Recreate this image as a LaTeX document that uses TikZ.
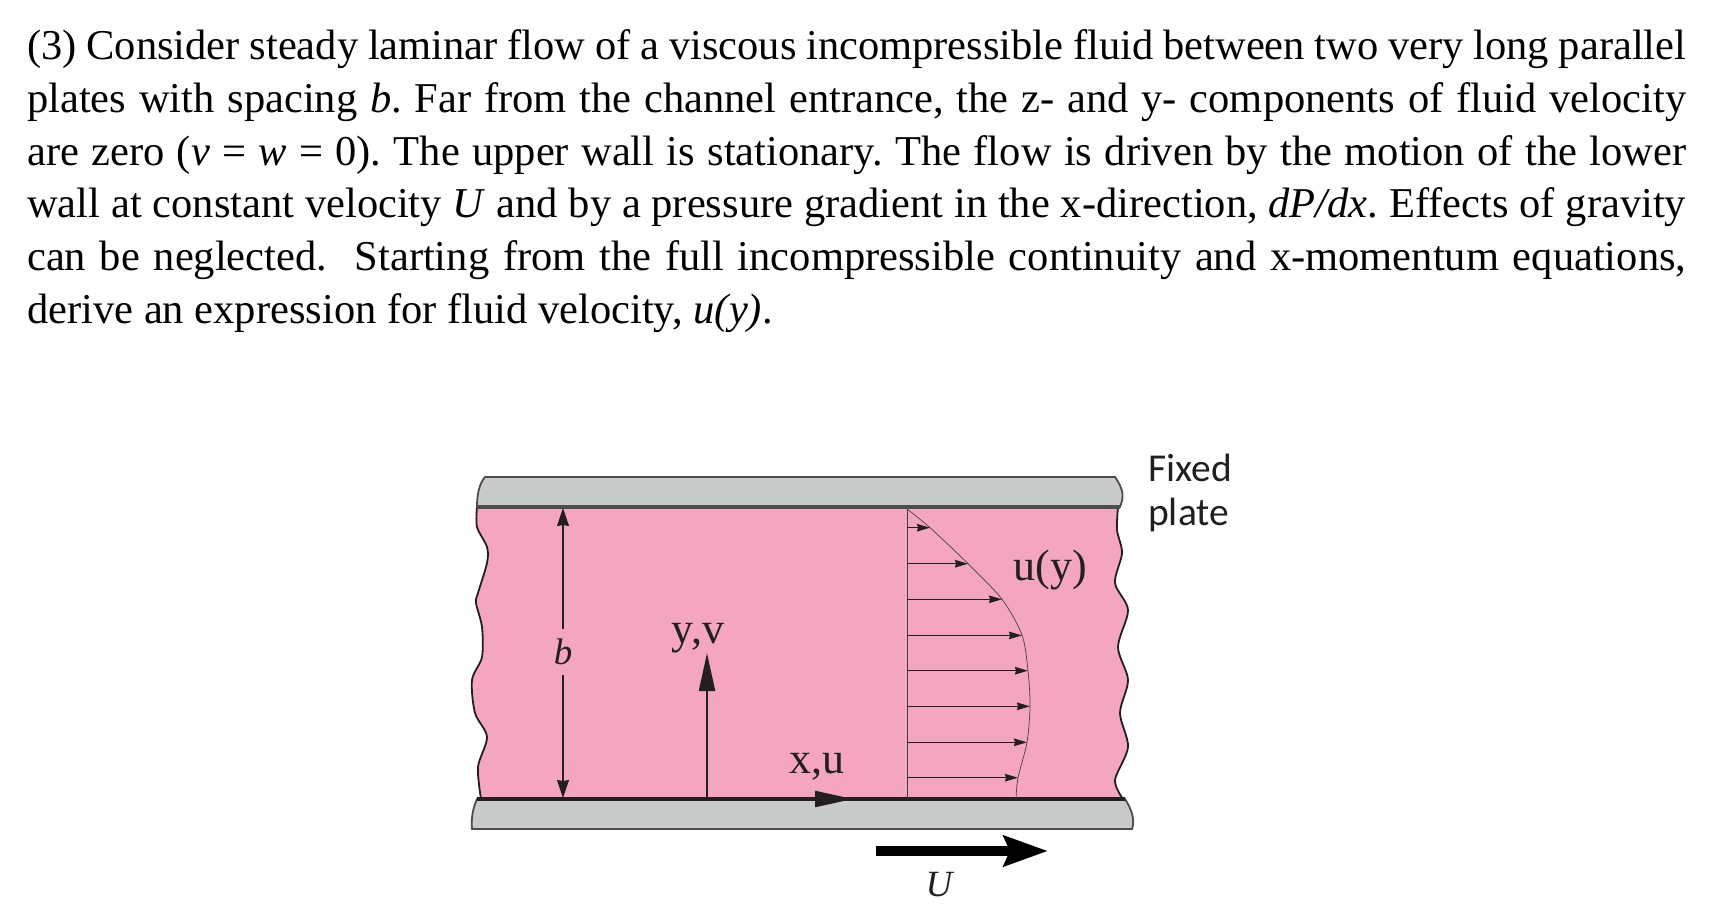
\documentclass[tikz,border=0pt]{standalone}
\usepackage{fontspec}
\setmainfont{Liberation Serif}
\newfontfamily\labelfont{Carlito}
\usetikzlibrary{arrows.meta}
\definecolor{fluidpink}{HTML}{F4A6C0}
\definecolor{plategray}{HTML}{C9CACA}
\definecolor{inkdark}{HTML}{231F20}
\tikzset {
    style text/.style={
        inner sep=0pt,
        anchor=north west,
        text width=1659pt,
        align=justify,
        font=\fontsize{42.5}{52.7}\selectfont\frenchspacing,
    },
    style fluid/.style={
        fill=fluidpink,
        draw=none,
    },
    style wave/.style={
        draw=inkdark,
        line width=1.8pt,
    },
    style plate/.style={
        fill=plategray,
        draw=inkdark!80,
        line width=1.8pt,
    },
    style wall/.style={
        draw=inkdark,
        line width=3.2pt,
    },
    style thin/.style={
        draw=inkdark!85,
        line width=0.7pt,
    },
    style vel/.style={
        draw=inkdark,
        line width=1.5pt,
        -{Stealth[length=13pt,width=7.5pt,inset=1pt]},
    },
    style dim/.style={
        draw=inkdark,
        line width=1.2pt,
        -{Stealth[length=18pt,width=12pt,inset=1pt]},
    },
    style axis/.style={
        draw=inkdark,
        line width=2.2pt,
        -{Stealth[length=38pt,width=16pt,inset=0pt]},
    },
    style motion/.style={
        draw=black,
        line width=10.7pt,
        -{Stealth[length=44pt,width=30pt,inset=6pt]},
    },
    style sym/.style={
        inner sep=0pt,
        text=inkdark,
        font=\fontsize{44}{44}\selectfont,
    },
    style ital/.style={
        inner sep=0pt,
        text=inkdark,
        font=\fontsize{37}{37}\selectfont\itshape,
    },
}
\begin{document}
\begin{tikzpicture}[x=1pt, y=-1pt]
        \useasboundingbox (0,0) rectangle (1712,918);

        \node[style text] (pb) at (27,29.5) {(3) Consider steady laminar flow of a viscous incompressible fluid between two very long parallel\linebreak
        plates with spacing \textit{b}. Far from the channel entrance, the z- and y- components of fluid velocity\linebreak
        are zero (\textit{v} = \textit{w} = 0). The upper wall is stationary. The flow is driven by the motion of the lower\linebreak
        wall at constant velocity \textit{U} and by a pressure gradient in the x-direction, \textit{dP/dx}. Effects of gravity\linebreak
        can be neglected.\ \ Starting from the full incompressible continuity and x-momentum equations,\linebreak
        derive an expression for fluid velocity, \textit{u(y)}.};

        % fluid between the plates
        \fill[style fluid] plot[smooth] coordinates {(477,507) (477,527) (487,547) (487,563) (478,593) (476,603) (482,627) (482,657) (472,680) (475,713) (487,737) (478,767) (481,799)}
            -- plot[smooth] coordinates {(1123,799) (1115,780) (1128,747) (1120,713) (1128,680) (1118,647) (1128,610) (1115,583) (1122,553) (1117,530) (1118,507)} -- cycle;
        \draw[style wave] plot[smooth] coordinates {(477,507) (477,527) (487,547) (487,563) (478,593) (476,603) (482,627) (482,657) (472,680) (475,713) (487,737) (478,767) (481,799)};
        \draw[style wave] plot[smooth] coordinates {(1123,799) (1115,780) (1128,747) (1120,713) (1128,680) (1118,647) (1128,610) (1115,583) (1122,553) (1117,530) (1118,507)};

        % plates
        \draw[style plate] (485,477) -- (1115,477) .. controls (1124,490) and (1124,497) .. (1120,507) -- (477,507) .. controls (477,495) and (479,484) .. (485,477) -- cycle;
        \draw[style plate] (477,799) -- (1125,799) .. controls (1132,810) and (1135,820) .. (1132,829) -- (472,829) .. controls (471,818) and (473,808) .. (477,799) -- cycle;
        \coordinate (wtl) at (477,507);
        \coordinate (wtr) at (1120,507);
        \coordinate (wbl) at (477,799);
        \coordinate (wbr) at (1125,799);
        \draw[style wall, draw=inkdark!80] (wtl) -- (wtr);
        \draw[style wall] (wbl) -- (wbr);

        % velocity profile
        \coordinate (pt) at (907,509);
        \coordinate (pb0) at (907,799);
        \draw[style thin] (pt) -- (pb0);
        \draw[style thin] plot[smooth] coordinates {(907,509) (930,527.7) (968,563.7) (1002,599.3) (1022,635) (1028,670.7) (1030,706.3) (1027,742.3) (1018,777.7) (1016,799)};
        \foreach \i/\yy/\xx in {1/527.7/930, 2/563.7/968, 3/599.3/1002, 4/635.4/1022, 5/670.7/1028, 6/706.3/1030, 7/742.3/1027, 8/777.7/1018} {
            \coordinate (vs\i) at (907,\yy);
            \coordinate (ve\i) at (\xx,\yy);
            \draw[style vel] (vs\i) -- (ve\i);
        }

        % spacing b
        \node[style ital, minimum height=46pt] (bb) at (563,652) {b};
        \coordinate (bt) at (563,508);
        \coordinate (bd) at (563,798);
        \draw[style dim] (bb) -- (bt);
        \draw[style dim] (bb) -- (bd);

        % axes
        \coordinate (og) at (707,799);
        \coordinate (ay) at (707,653);
        \coordinate (ax) at (853,799);
        \draw[style axis] (og) -- (ay);
        \draw[style axis] (og) -- (ax);
        \node[style sym] (yv) at (698,638) {y,v};
        \node[style sym] (xu) at (817,767) {x,u};
        \node[style sym] (uy) at (1050,570) {u(y)};

        % moving wall
        \coordinate (ms) at (876,851);
        \coordinate (me) at (1048,851);
        \draw[style motion] (ms) -- (me);
        \node[style ital] (uu) at (939,885) {U};

        \node[inner sep=0pt, anchor=north west, align=left, text=inkdark, font=\fontsize{39.5}{44}\labelfont] (fx) at (1148,454) {Fixed\\plate};

    \end{tikzpicture}
\end{document}
